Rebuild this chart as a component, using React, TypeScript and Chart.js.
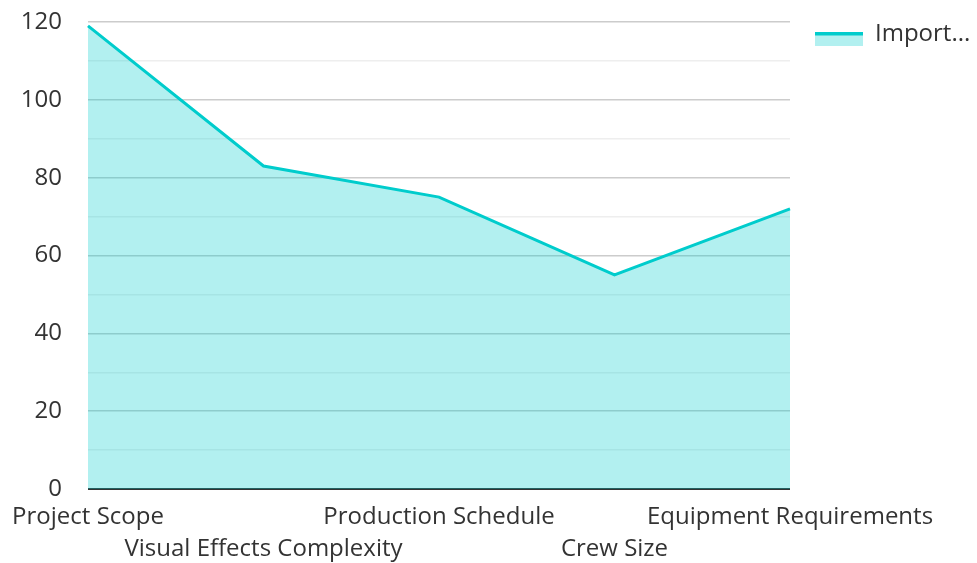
import React, { useEffect, useRef } from "react";
import { Chart, registerables } from "chart.js";

Chart.register(...registerables);

const categories = [
  "Project Scope",
  "Visual Effects Complexity",
  "Production Schedule",
  "Crew Size",
  "Equipment Requirements",
];
const seriesName = "Import...";
const values = [119, 83, 75, 55, 72];
const yTicks = [0, 20, 40, 60, 80, 100, 120];

const LINE = "rgb(0,204,204)";
const FILL = "rgba(0,204,204,0.3)";
const TEXT = "#333";
const FONT = "'Open Sans', 'Noto Sans', sans-serif";
const FS = 24;

const legendPlugin = {
  id: "customLegend",
  afterDraw(chart: any) {
    const ctx = chart.ctx;
    const x0 = chart.chartArea.right + 25;
    const y0 = chart.chartArea.top + 10;
    ctx.save();
    ctx.fillStyle = FILL;
    ctx.fillRect(x0, y0, 48, 14);
    ctx.fillStyle = LINE;
    ctx.fillRect(x0, y0, 48, 3.5);
    ctx.fillStyle = TEXT;
    ctx.font = `${FS}px ${FONT}`;
    ctx.textBaseline = "middle";
    ctx.textAlign = "left";
    ctx.fillText(seriesName, x0 + 60, y0 + 2);
    ctx.restore();
  },
};

export default function App() {
  const ref = useRef<HTMLCanvasElement>(null);
  useEffect(() => {
    if (!ref.current) return;
    const chart = new Chart(ref.current, {
      type: "line",
      data: {
        labels: categories,
        datasets: [
          {
            label: seriesName,
            data: values,
            borderColor: LINE,
            backgroundColor: FILL,
            borderWidth: 3,
            fill: "origin",
            pointRadius: 0,
            tension: 0,
          },
        ],
      },
      options: {
        animation: false,
        responsive: true,
        maintainAspectRatio: false,
        layout: { padding: { top: 22, right: 187, left: 0, bottom: 0 } },
        plugins: { legend: { display: false }, tooltip: { enabled: false } },
        scales: {
          x: {
            offset: false,
            grid: { display: false, drawTicks: false },
            border: { display: false },
            afterFit: (s: any) => {
              s.height = 74;
              s.paddingLeft = 0;
              s.paddingRight = 0;
            },
            ticks: {
              autoSkip: false,
              maxRotation: 0,
              minRotation: 0,
              padding: 12,
              color: TEXT,
              font: { family: FONT, size: FS, lineHeight: 32 / FS },
              callback: (_v: any, i: number) =>
                i % 2 ? ["", categories[i]] : categories[i],
            },
          },
          y: {
            min: 0,
            max: 120,
            border: { display: false },
            afterFit: (s: any) => {
              s.width = 88;
              s.paddingTop = 0;
              s.paddingBottom = 0;
            },
            grid: {
              drawTicks: false,
              color: (c: any) =>
                c.tick.value === 0
                  ? "#333"
                  : c.tick.value % 20 === 0
                  ? "#ccc"
                  : "#eee",
              lineWidth: (c: any) => (c.tick.value === 0 ? 2 : 1.5),
            },
            ticks: {
              stepSize: 10,
              padding: 26,
              color: TEXT,
              font: { family: FONT, size: FS },
              callback: (v: any) => (yTicks.includes(v) ? String(v) : ""),
            },
          },
        },
      },
      plugins: [legendPlugin],
    });
    return () => chart.destroy();
  }, []);
  return (
    <div
      style={{
        position: "fixed",
        left: 0,
        top: 0,
        width: 977,
        height: 563,
        background: "#fff",
      }}
    >
      <canvas ref={ref} />
    </div>
  );
}
